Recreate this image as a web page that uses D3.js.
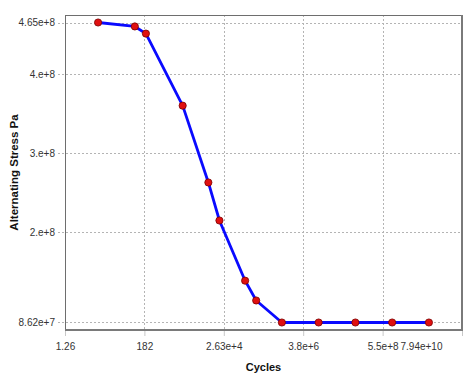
<!DOCTYPE html>
<html>
<head>
<meta charset="utf-8">
<script src="https://cdn.jsdelivr.net/npm/d3@7"></script>
<style>
  html, body { margin: 0; padding: 0; background: #fff; }
  svg { display: block; }
</style>
</head>
<body>
<svg id="chart" width="474" height="379"></svg>
<script>
// ---- data ----
const cycles = [10, 100, 200, 2000, 1e4, 2e4, 1e5, 2e5, 1e6, 1e7, 1e8, 1e9, 1e10];
const stress = [4.65e8, 4.60e8, 4.51e8, 3.60e8, 2.63e8, 2.15e8, 1.39e8, 1.14e8, 8.62e7, 8.62e7, 8.62e7, 8.62e7, 8.62e7];
const xTickValues = [1.26, 182, 2.63e4, 3.8e6, 5.5e8, 7.94e10];
const xTickLabels = ["1.26", "182", "2.63e+4", "3.8e+6", "5.5e+8", "7.94e+10"];
const yTickValues = [8.62e7, 2e8, 3e8, 4e8, 4.65e8];
const yTickLabels = ["8.62e+7", "2.e+8", "3.e+8", "4.e+8", "4.65e+8"];
const xTitle = "Cycles";
const yTitle = "Alternating Stress Pa";

// ---- layout ----
const L = 65, R = 462, T = 15, B = 330;
const svg = d3.select("#chart");

const lxMin = Math.log10(d3.min(cycles)), lxMax = Math.log10(d3.max(cycles));
const xPad = (lxMax - lxMin) * 0.1;
const x = d3.scaleLog().domain([Math.pow(10, lxMin - xPad), Math.pow(10, lxMax + xPad)]).range([L, R]);
const yMin = d3.min(stress), yMax = d3.max(stress);
const yPad = (yMax - yMin) * 0.025;
const y = d3.scaleLinear().domain([yMin - yPad, yMax + yPad]).range([B, T]);

// grid lines
const grid = svg.append("g");
grid.selectAll("line.hg").data(yTickValues).join("line")
  .attr("x1", L - 7).attr("x2", R)
  .attr("y1", d => Math.round(y(d)) + 0.5).attr("y2", d => Math.round(y(d)) + 0.5)
  .attr("stroke", "#b4b4b4").attr("stroke-width", 1).attr("stroke-dasharray", "2,2");
grid.selectAll("line.vg").data(xTickValues.slice(1, -1)).join("line")
  .attr("x1", d => Math.round(x(d)) + 0.5).attr("x2", d => Math.round(x(d)) + 0.5)
  .attr("y1", T).attr("y2", B)
  .attr("stroke", "#b4b4b4").attr("stroke-width", 1).attr("stroke-dasharray", "2,2");

// x axis
const xAxis = d3.axisBottom(x).tickValues(xTickValues)
  .tickFormat((d, i) => xTickLabels[i]).tickSize(6).tickSizeOuter(0);
const gx = svg.append("g").attr("transform", `translate(0,${B})`).call(xAxis);
gx.select(".domain").remove();
gx.selectAll(".tick line").attr("stroke", "#c8c8c8");
gx.selectAll(".tick text").attr("font-family", "'Liberation Sans', Arial, sans-serif")
  .attr("font-size", 10).attr("fill", "#333").attr("dy", "1.05em");
gx.selectAll(".tick text").filter((d, i) => i === xTickLabels.length - 1)
  .attr("text-anchor", "end").attr("dx", -20);

// y axis labels
const yAxis = d3.axisLeft(y).tickValues(yTickValues)
  .tickFormat((d, i) => yTickLabels[i]).tickSize(0).tickPadding(10);
const gy = svg.append("g").attr("transform", `translate(${L},0)`).call(yAxis);
gy.select(".domain").remove();
gy.selectAll(".tick text").attr("font-family", "'Liberation Sans', Arial, sans-serif")
  .attr("font-size", 10).attr("fill", "#333");

// frame
svg.append("line").attr("x1", L + 0.5).attr("x2", L + 0.5).attr("y1", T).attr("y2", B)
  .attr("stroke", "#6e6e6e").attr("stroke-width", 1);
svg.append("line").attr("x1", L).attr("x2", R + 1).attr("y1", T + 0.5).attr("y2", T + 0.5)
  .attr("stroke", "#6e6e6e").attr("stroke-width", 1);
svg.append("line").attr("x1", R).attr("x2", R).attr("y1", T).attr("y2", B)
  .attr("stroke", "#7a7a7a").attr("stroke-width", 2);
svg.append("line").attr("x1", L).attr("x2", R + 1).attr("y1", B).attr("y2", B)
  .attr("stroke", "#7a7a7a").attr("stroke-width", 2);

// series
const pts = cycles.map((c, i) => [c, stress[i]]);
svg.append("path").datum(pts)
  .attr("d", d3.line().x(d => x(d[0])).y(d => y(d[1])))
  .attr("fill", "none").attr("stroke", "#0a0aff").attr("stroke-width", 2.8)
  .attr("stroke-linejoin", "round");
svg.selectAll("circle.pt").data(pts).join("circle")
  .attr("cx", d => x(d[0])).attr("cy", d => y(d[1])).attr("r", 3.6)
  .attr("fill", "#e01010").attr("stroke", "#7a0000").attr("stroke-width", 0.8);

// titles
svg.append("text").attr("x", (L + R) / 2).attr("y", 371).attr("text-anchor", "middle")
  .attr("font-family", "'Liberation Sans', Arial, sans-serif").attr("font-weight", "bold")
  .attr("font-size", 11).attr("fill", "#111").text(xTitle);
svg.append("text").attr("transform", `translate(18,${(T + B) / 2}) rotate(-90)`)
  .attr("text-anchor", "middle")
  .attr("font-family", "'Liberation Sans', Arial, sans-serif").attr("font-weight", "bold")
  .attr("font-size", 11.5).attr("fill", "#111").text(yTitle);
</script>
</body>
</html>
